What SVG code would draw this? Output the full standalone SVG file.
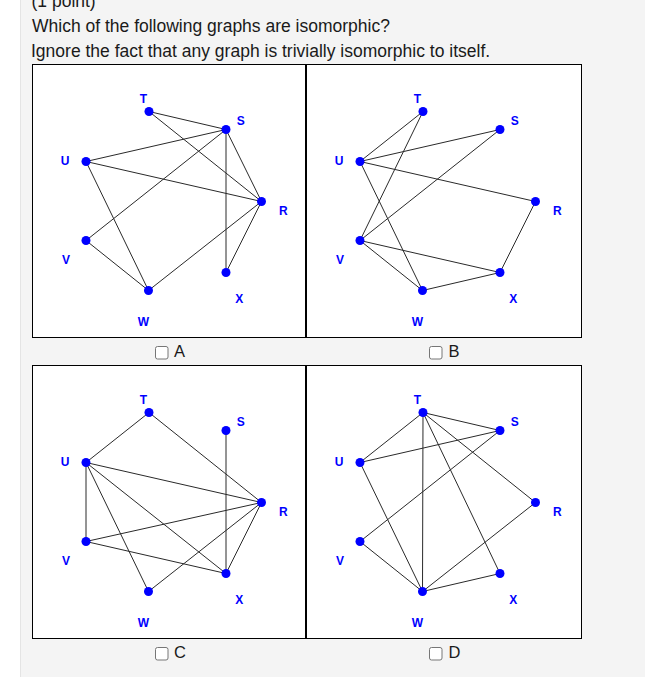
<svg xmlns="http://www.w3.org/2000/svg" width="645" height="677" viewBox="0 0 645 677">
<style>
.q{font-family:"Liberation Sans",Arial,sans-serif;font-size:17.5px;fill:#1a1a1a}
.c{font-family:"Liberation Sans",Arial,sans-serif;font-size:16.5px;fill:#1a1a1a}
.panel{fill:#fff;stroke:#000;stroke-width:1}
.e line{stroke:#2a2a2a;stroke-width:1}
.n circle{fill:#0000ff}
.lb{font-family:"Liberation Sans",Arial,sans-serif;font-weight:bold;font-size:12px;fill:#0000ff;text-anchor:middle}
.cb{fill:#fff;stroke:#767676;stroke-width:1}
</style>
<rect x="0" y="0" width="645" height="677" fill="#fff"/>
<rect x="20.5" y="-1" width="625" height="679" fill="#f4f4f4" stroke="#e4e4e4" stroke-width="1"/>
<text class="q" x="31.5" y="7">(1 point)</text>
<text class="q" x="32" y="31.5">Which of the following graphs are isomorphic?</text>
<text class="q" x="31" y="56.5">Ignore the fact that any graph is trivially isomorphic to itself.</text>

<!-- Panel A -->
<g id="graphA" transform="translate(32.5,64.5)">
<rect class="panel" x="0" y="0" width="273" height="273"/>
<g class="e" id="edgesA">
<line x1="116.5" y1="47" x2="193.5" y2="65"/>
<line x1="116.5" y1="47" x2="229" y2="137"/>
<line x1="193.5" y1="65" x2="53.5" y2="97"/>
<line x1="193.5" y1="65" x2="53.5" y2="176"/>
<line x1="193.5" y1="65" x2="229" y2="137"/>
<line x1="193.5" y1="65" x2="193.5" y2="208"/>
<line x1="53.5" y1="97" x2="229" y2="137"/>
<line x1="53.5" y1="97" x2="116" y2="226"/>
<line x1="53.5" y1="176" x2="116" y2="226"/>
<line x1="229" y1="137" x2="116" y2="226"/>
<line x1="229" y1="137" x2="193.5" y2="208"/>
</g>
<g class="n" id="A-T"><circle cx="116.5" cy="47" r="4.5"/><text class="lb" x="110.8" y="38">T</text></g>
<g class="n" id="A-S"><circle cx="193.5" cy="65" r="4.5"/><text class="lb" x="208.2" y="60.5">S</text></g>
<g class="n" id="A-U"><circle cx="53.5" cy="97" r="4.5"/><text class="lb" x="32.5" y="100">U</text></g>
<g class="n" id="A-R"><circle cx="229" cy="137" r="4.5"/><text class="lb" x="250.8" y="150.5">R</text></g>
<g class="n" id="A-V"><circle cx="53.5" cy="176" r="4.5"/><text class="lb" x="33.5" y="199">V</text></g>
<g class="n" id="A-X"><circle cx="193.5" cy="208" r="4.5"/><text class="lb" x="206.8" y="238">X</text></g>
<g class="n" id="A-W"><circle cx="116" cy="226" r="4.5"/><text class="lb" x="110.8" y="261.5">W</text></g>
</g>

<!-- Panel B -->
<g id="graphB" transform="translate(306.5,64.5)">
<rect class="panel" x="0" y="0" width="275" height="273"/>
<g class="e" id="edgesB">
<line x1="116.5" y1="47" x2="53.5" y2="97"/>
<line x1="116.5" y1="47" x2="53.5" y2="176"/>
<line x1="53.5" y1="97" x2="193.5" y2="65"/>
<line x1="53.5" y1="97" x2="229" y2="137"/>
<line x1="53.5" y1="97" x2="116" y2="226"/>
<line x1="53.5" y1="176" x2="193.5" y2="65"/>
<line x1="53.5" y1="176" x2="193.5" y2="208"/>
<line x1="53.5" y1="176" x2="116" y2="226"/>
<line x1="116" y1="226" x2="193.5" y2="208"/>
<line x1="193.5" y1="208" x2="229" y2="137"/>
</g>
<g class="n" id="B-T"><circle cx="116.5" cy="47" r="4.5"/><text class="lb" x="110.8" y="38">T</text></g>
<g class="n" id="B-S"><circle cx="193.5" cy="65" r="4.5"/><text class="lb" x="208.2" y="60.5">S</text></g>
<g class="n" id="B-U"><circle cx="53.5" cy="97" r="4.5"/><text class="lb" x="32.5" y="100">U</text></g>
<g class="n" id="B-R"><circle cx="229" cy="137" r="4.5"/><text class="lb" x="250.8" y="150.5">R</text></g>
<g class="n" id="B-V"><circle cx="53.5" cy="176" r="4.5"/><text class="lb" x="33.5" y="199">V</text></g>
<g class="n" id="B-X"><circle cx="193.5" cy="208" r="4.5"/><text class="lb" x="206.8" y="238">X</text></g>
<g class="n" id="B-W"><circle cx="116" cy="226" r="4.5"/><text class="lb" x="110.8" y="261.5">W</text></g>
</g>

<!-- Panel C -->
<g id="graphC" transform="translate(32.5,365.5)">
<rect class="panel" x="0" y="0" width="273" height="273"/>
<g class="e" id="edgesC">
<line x1="116.5" y1="47" x2="53.5" y2="97"/>
<line x1="116.5" y1="47" x2="229" y2="137"/>
<line x1="193.5" y1="65" x2="193.5" y2="208"/>
<line x1="53.5" y1="97" x2="53.5" y2="176"/>
<line x1="53.5" y1="97" x2="229" y2="137"/>
<line x1="53.5" y1="97" x2="193.5" y2="208"/>
<line x1="53.5" y1="97" x2="116" y2="226"/>
<line x1="53.5" y1="176" x2="229" y2="137"/>
<line x1="53.5" y1="176" x2="193.5" y2="208"/>
<line x1="116" y1="226" x2="229" y2="137"/>
<line x1="229" y1="137" x2="193.5" y2="208"/>
</g>
<g class="n" id="C-T"><circle cx="116.5" cy="47" r="4.5"/><text class="lb" x="110.8" y="38">T</text></g>
<g class="n" id="C-S"><circle cx="193.5" cy="65" r="4.5"/><text class="lb" x="208.2" y="60.5">S</text></g>
<g class="n" id="C-U"><circle cx="53.5" cy="97" r="4.5"/><text class="lb" x="32.5" y="100">U</text></g>
<g class="n" id="C-R"><circle cx="229" cy="137" r="4.5"/><text class="lb" x="250.8" y="150.5">R</text></g>
<g class="n" id="C-V"><circle cx="53.5" cy="176" r="4.5"/><text class="lb" x="33.5" y="199">V</text></g>
<g class="n" id="C-X"><circle cx="193.5" cy="208" r="4.5"/><text class="lb" x="206.8" y="238">X</text></g>
<g class="n" id="C-W"><circle cx="116" cy="226" r="4.5"/><text class="lb" x="110.8" y="261.5">W</text></g>
</g>

<!-- Panel D -->
<g id="graphD" transform="translate(306.5,365.5)">
<rect class="panel" x="0" y="0" width="275" height="273"/>
<g class="e" id="edgesD">
<line x1="116.5" y1="47" x2="53.5" y2="97"/>
<line x1="116.5" y1="47" x2="193.5" y2="65"/>
<line x1="116.5" y1="47" x2="116" y2="226"/>
<line x1="116.5" y1="47" x2="193.5" y2="208"/>
<line x1="116.5" y1="47" x2="229" y2="137"/>
<line x1="53.5" y1="97" x2="193.5" y2="65"/>
<line x1="53.5" y1="97" x2="116" y2="226"/>
<line x1="53.5" y1="176" x2="193.5" y2="65"/>
<line x1="53.5" y1="176" x2="116" y2="226"/>
<line x1="116" y1="226" x2="229" y2="137"/>
<line x1="116" y1="226" x2="193.5" y2="208"/>
</g>
<g class="n" id="D-T"><circle cx="116.5" cy="47" r="4.5"/><text class="lb" x="110.8" y="38">T</text></g>
<g class="n" id="D-S"><circle cx="193.5" cy="65" r="4.5"/><text class="lb" x="208.2" y="60.5">S</text></g>
<g class="n" id="D-U"><circle cx="53.5" cy="97" r="4.5"/><text class="lb" x="32.5" y="100">U</text></g>
<g class="n" id="D-R"><circle cx="229" cy="137" r="4.5"/><text class="lb" x="250.8" y="150.5">R</text></g>
<g class="n" id="D-V"><circle cx="53.5" cy="176" r="4.5"/><text class="lb" x="33.5" y="199">V</text></g>
<g class="n" id="D-X"><circle cx="193.5" cy="208" r="4.5"/><text class="lb" x="206.8" y="238">X</text></g>
<g class="n" id="D-W"><circle cx="116" cy="226" r="4.5"/><text class="lb" x="110.8" y="261.5">W</text></g>
</g>

<!-- Answer choices -->
<g id="choiceA"><rect class="cb" x="155.5" y="346.5" width="12.5" height="12.5" rx="2"/><text class="c" x="174" y="357">A</text></g>
<g id="choiceB"><rect class="cb" x="429.5" y="346.5" width="12.5" height="12.5" rx="2"/><text class="c" x="448.5" y="357">B</text></g>
<g id="choiceC"><rect class="cb" x="155.5" y="647.5" width="12.5" height="12.5" rx="2"/><text class="c" x="174" y="658">C</text></g>
<g id="choiceD"><rect class="cb" x="429.5" y="647.5" width="12.5" height="12.5" rx="2"/><text class="c" x="448.5" y="658">D</text></g>
</svg>
